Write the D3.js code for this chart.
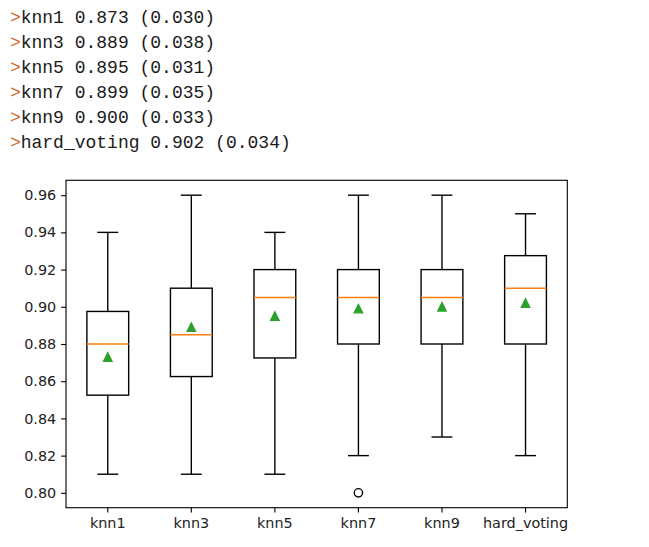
<!DOCTYPE html>
<html>
<head>
<meta charset="utf-8">
<script src="https://cdn.jsdelivr.net/npm/d3@7"></script>
<style>
  html, body { margin: 0; padding: 0; background: #fff; }
  svg { display: block; }
</style>
</head>
<body>
<svg id="chart" width="649" height="547"></svg>
<script>
const categories = ["knn1", "knn3", "knn5", "knn7", "knn9", "hard_voting"];
const whiskerLow = [0.81, 0.81, 0.81, 0.82, 0.83, 0.82];
const q1 = [0.8525, 0.8625, 0.8725, 0.88, 0.88, 0.88];
const medians = [0.88, 0.885, 0.905, 0.905, 0.905, 0.91];
const q3 = [0.8975, 0.91, 0.92, 0.92, 0.92, 0.9275];
const whiskerHigh = [0.94, 0.96, 0.94, 0.96, 0.96, 0.95];
const means = [0.873, 0.889, 0.895, 0.899, 0.900, 0.902];
const outliers = [[], [], [], [0.80], [], []];
const stds = [0.030, 0.038, 0.031, 0.035, 0.033, 0.034];
const yTicks = [0.80, 0.82, 0.84, 0.86, 0.88, 0.90, 0.92, 0.94, 0.96];

const svg = d3.select("#chart");

// console-style printed summary
const lines = svg.append("g").attr("class", "summary");
categories.forEach((c, i) => {
  const yb = 22.7 + i * 25;
  lines.append("text")
    .attr("x", 10).attr("y", yb)
    .attr("font-family", "Liberation Mono, monospace")
    .attr("font-size", 18)
    .attr("fill", "#c8692a")
    .text(">");
  lines.append("text")
    .attr("x", 20.7).attr("y", yb)
    .attr("font-family", "Liberation Mono, monospace")
    .attr("font-size", 18)
    .attr("fill", "#1a1a1a")
    .text(`${c} ${means[i].toFixed(3)} (${stds[i].toFixed(3)})`);
});

const pLeft = 66, pRight = 567.3, pTop = 180.3, pBottom = 507.7;
const x = d3.scaleBand().domain(categories).range([pLeft, pRight]).padding(0);
const y = d3.scaleLinear().domain([0.792, 0.968]).range([pBottom, pTop]);
const bw = x.bandwidth();
const cx = c => x(c) + bw / 2;
const lw = 1.39;

const g = svg.append("g").attr("class", "boxes");

categories.forEach((c, i) => {
  const xc = cx(c);
  const boxW = bw * 0.5, capW = bw * 0.25;
  // whiskers
  g.append("line").attr("x1", xc).attr("x2", xc)
    .attr("y1", y(q1[i])).attr("y2", y(whiskerLow[i]))
    .attr("stroke", "#000").attr("stroke-width", lw);
  g.append("line").attr("x1", xc).attr("x2", xc)
    .attr("y1", y(q3[i])).attr("y2", y(whiskerHigh[i]))
    .attr("stroke", "#000").attr("stroke-width", lw);
  // caps
  [whiskerLow[i], whiskerHigh[i]].forEach(v => {
    g.append("line").attr("x1", xc - capW / 2).attr("x2", xc + capW / 2)
      .attr("y1", y(v)).attr("y2", y(v))
      .attr("stroke", "#000").attr("stroke-width", lw);
  });
  // box
  g.append("rect")
    .attr("x", xc - boxW / 2).attr("width", boxW)
    .attr("y", y(q3[i])).attr("height", y(q1[i]) - y(q3[i]))
    .attr("fill", "none").attr("stroke", "#000").attr("stroke-width", lw);
  // median
  g.append("line").attr("x1", xc - boxW / 2).attr("x2", xc + boxW / 2)
    .attr("y1", y(medians[i])).attr("y2", y(medians[i]))
    .attr("stroke", "#ff7f0e").attr("stroke-width", lw);
  // mean triangle
  const s = 4.17;
  const my = y(means[i]);
  g.append("path")
    .attr("d", `M${xc},${my - s}L${xc - s},${my + s}L${xc + s},${my + s}Z`)
    .attr("fill", "#2ca02c").attr("stroke", "#2ca02c").attr("stroke-width", lw)
    .attr("stroke-linejoin", "miter");
  // outliers
  outliers[i].forEach(v => {
    g.append("circle").attr("cx", xc).attr("cy", y(v)).attr("r", 4.17)
      .attr("fill", "none").attr("stroke", "#000").attr("stroke-width", lw);
  });
});

// axes
const yAxis = d3.axisLeft(y).tickValues(yTicks).tickFormat(d3.format(".2f"))
  .tickSize(4.9).tickPadding(4.9);
const xAxis = d3.axisBottom(x).tickSize(4.9).tickPadding(4.9);

const ya = svg.append("g").attr("transform", `translate(${pLeft},0)`).call(yAxis);
const xa = svg.append("g").attr("transform", `translate(0,${pBottom})`).call(xAxis);
[ya, xa].forEach(a => {
  a.select(".domain").remove();
  a.selectAll(".tick line").attr("stroke", "#000").attr("stroke-width", 1.11);
  a.selectAll(".tick text").attr("font-family", "DejaVu Sans, sans-serif")
    .attr("font-size", 14.4).attr("fill", "#222");
});

// frame (spines)
svg.append("rect")
  .attr("x", pLeft).attr("y", pTop)
  .attr("width", pRight - pLeft).attr("height", pBottom - pTop)
  .attr("fill", "none").attr("stroke", "#000").attr("stroke-width", 1.11);
</script>
</body>
</html>
